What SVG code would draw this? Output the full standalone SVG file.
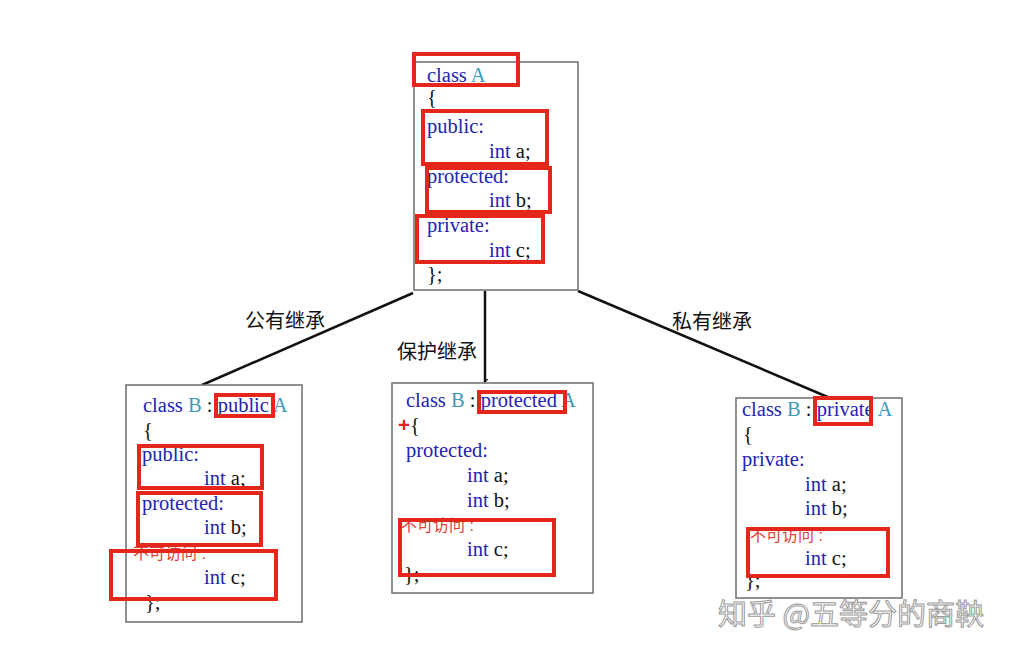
<svg xmlns="http://www.w3.org/2000/svg" width="1030" height="651" viewBox="0 0 1030 651">
<defs>
<style>
.box{fill:#fff;stroke:#6e6e6e;stroke-width:1.5}
.hl{fill:none;stroke:#e5261b;stroke-width:4}
.code{font-family:"Liberation Serif","Times New Roman",serif;font-size:20.5px}
.kw{fill:#2323b4}
.tl{fill:#3a9cb8}
.bk{fill:#111}
.na{fill:#e0403a;font-family:"Liberation Sans","Noto Sans CJK SC",sans-serif;font-size:16px}
.lbl{font-family:"Noto Sans CJK SC","Noto Sans",sans-serif;font-size:20px;fill:#111}
.conn{stroke:#111;stroke-width:2.5;fill:none}
.wm{font-family:"Noto Sans CJK SC",sans-serif;font-size:29px;fill:#fff;stroke:#9a9a9a;stroke-width:1}
</style>
<marker id="ah" viewBox="0 0 6 6" refX="3" refY="5" markerWidth="6" markerHeight="6" orient="auto-start-reverse" markerUnits="userSpaceOnUse">
<path d="M0,2 L3,6 L6,2" fill="none" stroke="#111" stroke-width="1.2"/>
</marker>
</defs>
<rect width="1030" height="651" fill="#fff"/>

<g id="connectors">
<line class="conn" x1="413" y1="293" x2="202" y2="385"/>
<line class="conn" x1="485" y1="291" x2="485" y2="382" marker-end="url(#ah)"/>
<line class="conn" x1="578" y1="291" x2="830" y2="398"/>
<text class="lbl" x="245" y="328">公有继承</text>
<text class="lbl" x="397" y="359">保护继承</text>
<text class="lbl" x="672" y="329">私有继承</text>
</g>

<g id="classA">
<rect class="box" x="414" y="62" width="164" height="228"/>
<text class="code" x="427" y="82"><tspan class="kw">class </tspan><tspan class="tl">A</tspan></text>
<text class="code bk" x="427" y="104">{</text>
<text class="code kw" x="427" y="133">public:</text>
<text class="code" x="489" y="158"><tspan class="kw">int </tspan><tspan class="bk">a;</tspan></text>
<text class="code kw" x="427" y="183">protected:</text>
<text class="code" x="489" y="207"><tspan class="kw">int </tspan><tspan class="bk">b;</tspan></text>
<text class="code kw" x="427" y="232">private:</text>
<text class="code" x="489" y="257"><tspan class="kw">int </tspan><tspan class="bk">c;</tspan></text>
<text class="code bk" x="427" y="281">};</text>
<rect class="hl" x="414" y="54" width="104" height="31"/>
<rect class="hl" x="423" y="111" width="124" height="53"/>
<rect class="hl" x="427" y="168" width="123" height="44"/>
<rect class="hl" x="417" y="216" width="126" height="46"/>
</g>

<g id="classB-public">
<rect class="box" x="126" y="385" width="176" height="237"/>
<text class="code" x="143" y="412"><tspan class="kw">class </tspan><tspan class="tl">B</tspan><tspan class="bk"> : </tspan><tspan class="kw">public </tspan><tspan class="tl">A</tspan></text>
<text class="code bk" x="143" y="437">{</text>
<text class="code kw" x="142" y="461">public:</text>
<text class="code" x="204" y="485"><tspan class="kw">int </tspan><tspan class="bk">a;</tspan></text>
<text class="code kw" x="142" y="510">protected:</text>
<text class="code" x="204" y="534"><tspan class="kw">int </tspan><tspan class="bk">b;</tspan></text>
<text class="na" x="133" y="559">不可访问 :</text>
<text class="code" x="204" y="584"><tspan class="kw">int </tspan><tspan class="bk">c;</tspan></text>
<text class="code bk" x="145" y="609">};</text>
<rect class="hl" x="216" y="395" width="57" height="21"/>
<rect class="hl" x="139" y="446" width="123" height="42"/>
<rect class="hl" x="138" y="493" width="123" height="52"/>
<rect class="hl" x="111" y="551" width="165" height="48"/>
</g>

<g id="classB-protected">
<rect class="box" x="392" y="383" width="201" height="210"/>
<text class="code" x="406" y="407"><tspan class="kw">class </tspan><tspan class="tl">B</tspan><tspan class="bk"> : </tspan><tspan class="kw">protected </tspan><tspan class="tl">A</tspan></text>
<text class="code" x="398" y="432"><tspan fill="#e0251b" font-family="Liberation Sans,sans-serif" font-weight="bold">+</tspan><tspan class="bk">{</tspan></text>
<text class="code kw" x="406" y="457">protected:</text>
<text class="code" x="467" y="482"><tspan class="kw">int </tspan><tspan class="bk">a;</tspan></text>
<text class="code" x="467" y="507"><tspan class="kw">int </tspan><tspan class="bk">b;</tspan></text>
<text class="na" x="401" y="531">不可访问 :</text>
<text class="code" x="467" y="556"><tspan class="kw">int </tspan><tspan class="bk">c;</tspan></text>
<text class="code bk" x="404" y="581">};</text>
<rect class="hl" x="479" y="392" width="86" height="20"/>
<rect class="hl" x="400" y="520" width="154" height="55"/>
</g>

<g id="classB-private">
<rect class="box" x="736" y="398" width="166" height="200"/>
<text class="code" x="742" y="416"><tspan class="kw">class </tspan><tspan class="tl">B</tspan><tspan class="bk"> : </tspan><tspan class="kw">private </tspan><tspan class="tl">A</tspan></text>
<text class="code bk" x="743" y="441">{</text>
<text class="code kw" x="742" y="466">private:</text>
<text class="code" x="805" y="491"><tspan class="kw">int </tspan><tspan class="bk">a;</tspan></text>
<text class="code" x="805" y="515"><tspan class="kw">int </tspan><tspan class="bk">b;</tspan></text>
<text class="na" x="750" y="541">不可访问 :</text>
<text class="code" x="805" y="565"><tspan class="kw">int </tspan><tspan class="bk">c;</tspan></text>
<text class="code bk" x="745" y="587">};</text>
<rect class="hl" x="815" y="398" width="56" height="26"/>
<rect class="hl" x="748" y="529" width="140" height="47"/>
</g>

<text class="wm" x="718" y="625">知乎 @五等分的商鞅</text>
</svg>
